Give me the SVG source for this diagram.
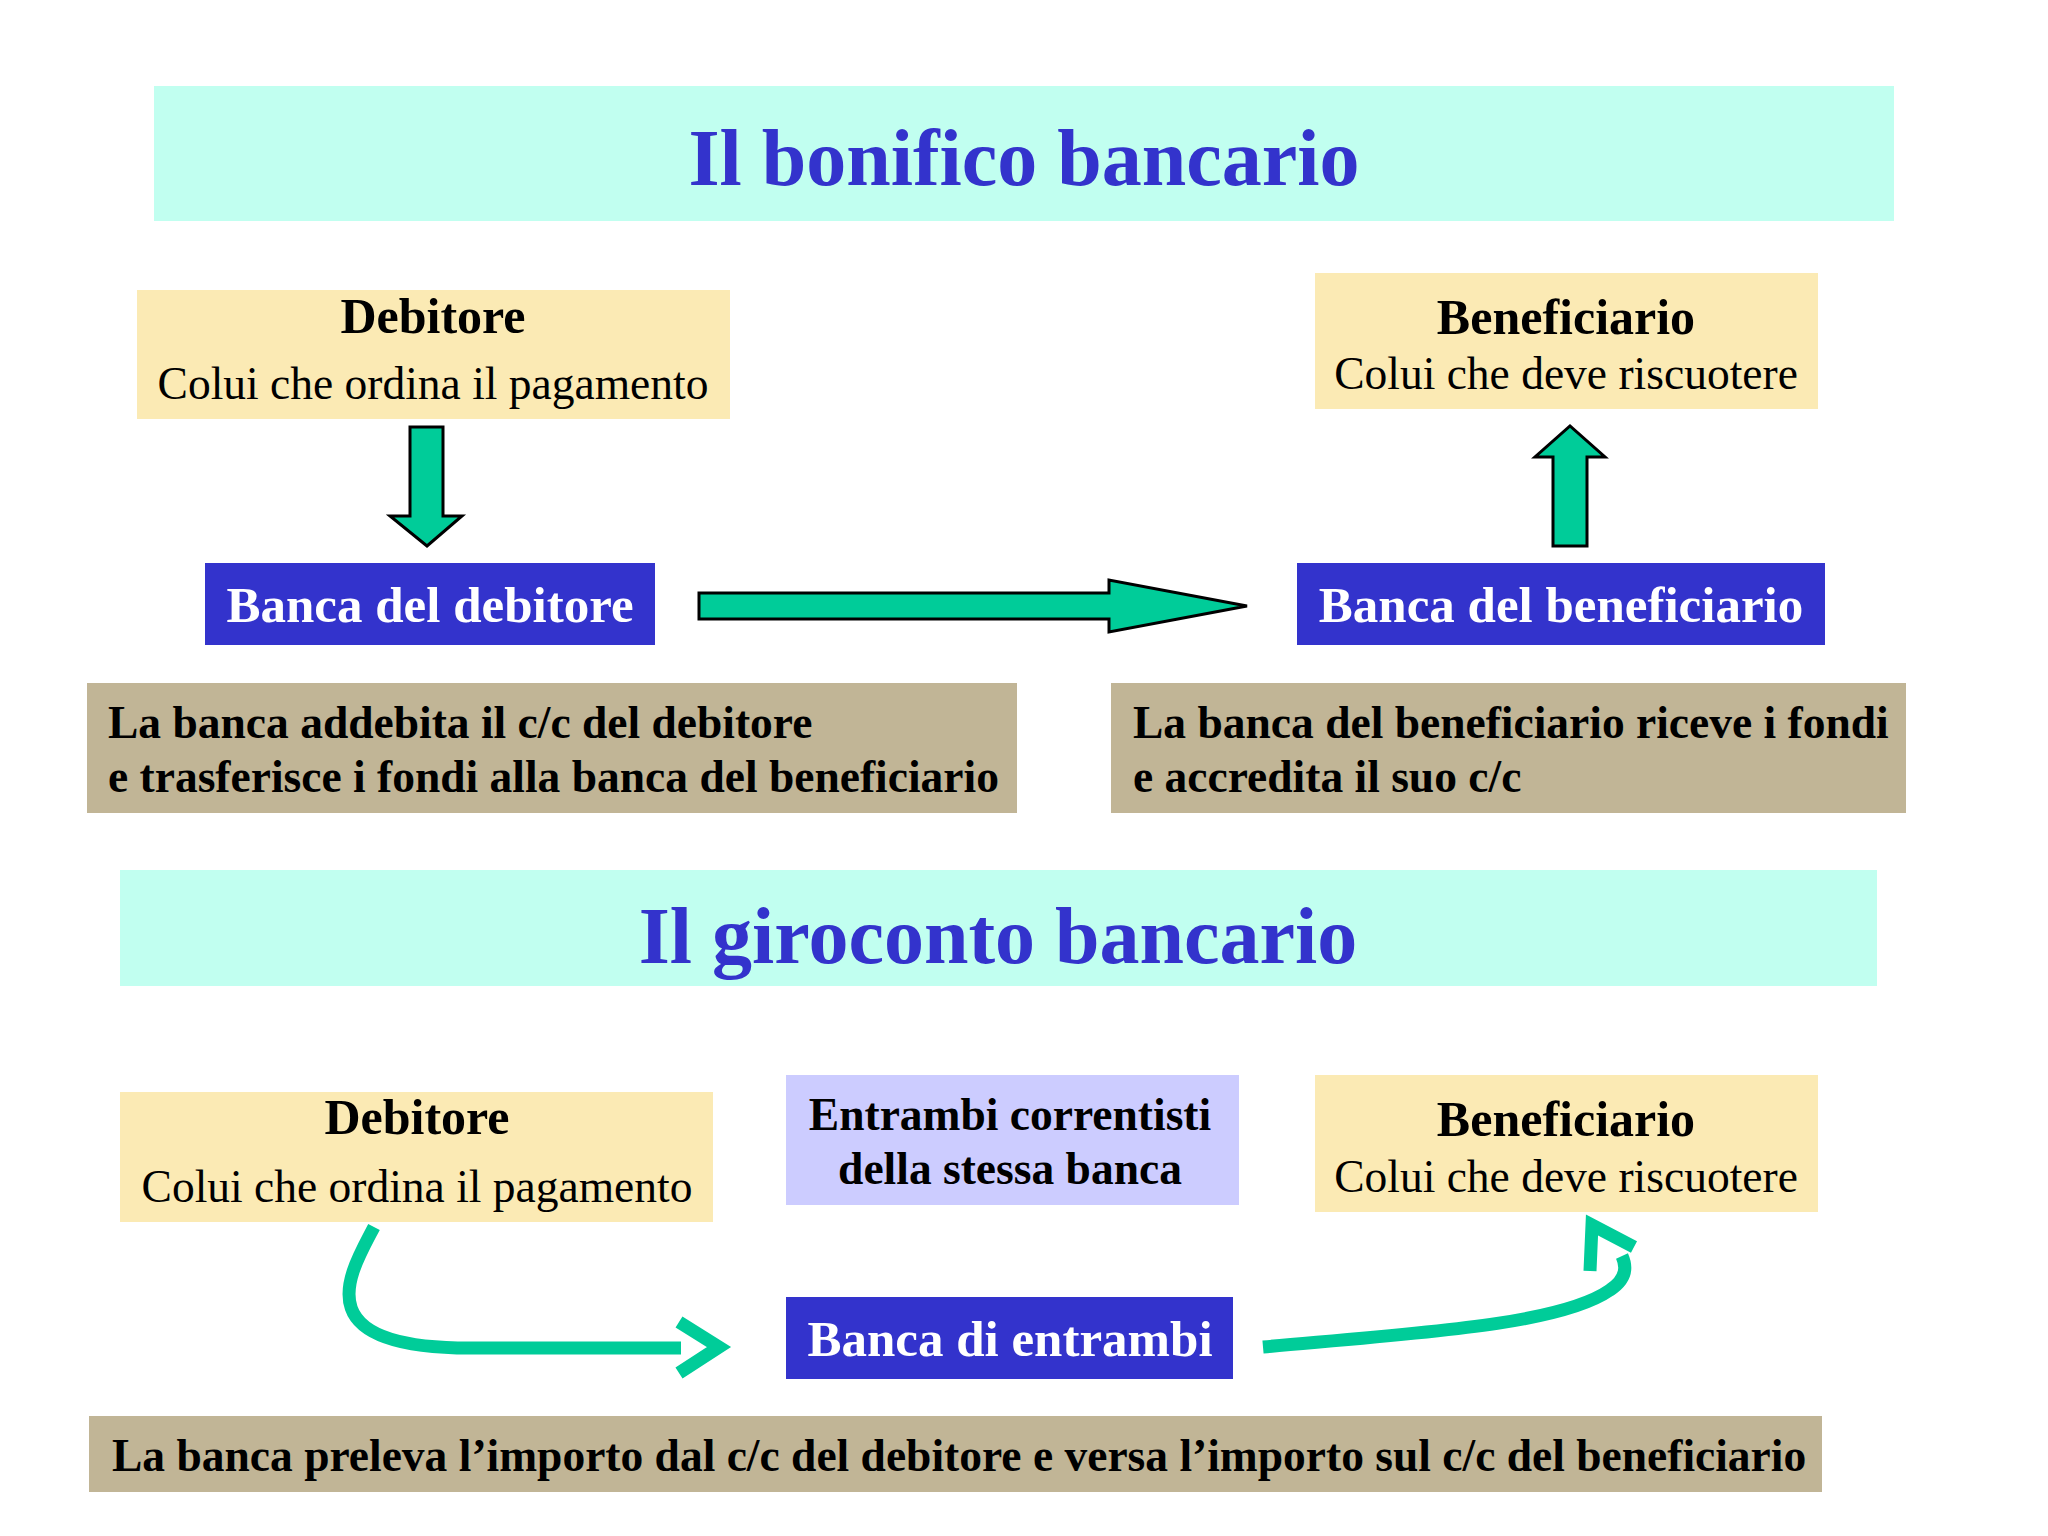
<svg xmlns="http://www.w3.org/2000/svg" width="2048" height="1536" viewBox="0 0 2048 1536">
<style>
.title{fill:#c1fff0}
.yel{fill:#fbeab4}
.blue{fill:#3333cc}
.tan{fill:#c1b596}
.lav{fill:#ccccff}
.tt{font-family:"Liberation Serif","Times New Roman",serif;font-weight:bold;font-size:80px;fill:#3333cc;text-anchor:middle}
.hb{font-family:"Liberation Serif","Times New Roman",serif;font-weight:bold;font-size:50px;fill:#000;text-anchor:middle}
.hr{font-family:"Liberation Serif","Times New Roman",serif;font-size:45.5px;fill:#000;text-anchor:middle}
.wb{font-family:"Liberation Serif","Times New Roman",serif;font-weight:bold;font-size:51px;fill:#fff;text-anchor:middle}
.db{font-family:"Liberation Serif","Times New Roman",serif;font-weight:bold;font-size:45.5px;fill:#000}
.arr{fill:#00cc99;stroke:#000;stroke-width:3;stroke-linejoin:miter}
.crv{fill:none;stroke:#00cc99;stroke-width:13}
</style>
<rect width="2048" height="1536" fill="#fff"/>
<g id="title1"><rect class="title" x="154" y="86" width="1740" height="135"/><text class="tt" x="1024" y="185">Il bonifico bancario</text></g>
<g id="debitore1"><rect class="yel" x="137" y="290" width="593" height="129"/><text class="hb" x="433" y="333">Debitore</text><text class="hr" x="433" y="399">Colui che ordina il pagamento</text></g>
<g id="beneficiario1"><rect class="yel" x="1315" y="273" width="503" height="136"/><text class="hb" x="1566" y="334">Beneficiario</text><text class="hr" x="1566" y="389">Colui che deve riscuotere</text></g>
<g id="bancaDebitore"><rect class="blue" x="205" y="563" width="450" height="82"/><text class="wb" x="430" y="622">Banca del debitore</text></g>
<g id="bancaBeneficiario"><rect class="blue" x="1297" y="563" width="528" height="82"/><text class="wb" x="1561" y="622">Banca del beneficiario</text></g>
<g id="nota1"><rect class="tan" x="87" y="683" width="930" height="130"/><text class="db" x="108" y="738">La banca addebita il c/c del debitore</text><text class="db" x="108" y="792">e trasferisce i fondi alla banca del beneficiario</text></g>
<g id="nota2"><rect class="tan" x="1111" y="683" width="795" height="130"/><text class="db" x="1133" y="738">La banca del beneficiario riceve i fondi</text><text class="db" x="1133" y="792">e accredita il suo c/c</text></g>
<g id="title2"><rect class="title" x="120" y="870" width="1757" height="116"/><text class="tt" x="998" y="963">Il giroconto bancario</text></g>
<g id="debitore2"><rect class="yel" x="120" y="1092" width="593" height="130"/><text class="hb" x="417" y="1134">Debitore</text><text class="hr" x="417" y="1202">Colui che ordina il pagamento</text></g>
<g id="entrambi"><rect class="lav" x="786" y="1075" width="453" height="130"/><text class="db" x="1010" y="1130" text-anchor="middle">Entrambi correntisti</text><text class="db" x="1010" y="1184" text-anchor="middle">della stessa banca</text></g>
<g id="beneficiario2"><rect class="yel" x="1315" y="1075" width="503" height="137"/><text class="hb" x="1566" y="1136">Beneficiario</text><text class="hr" x="1566" y="1192">Colui che deve riscuotere</text></g>
<g id="bancaEntrambi"><rect class="blue" x="786" y="1297" width="447" height="82"/><text class="wb" x="1010" y="1356">Banca di entrambi</text></g>
<g id="nota3"><rect class="tan" x="89" y="1416" width="1733" height="76"/><text class="db" x="112" y="1471">La banca preleva l’importo dal c/c del debitore e versa l’importo sul c/c del beneficiario</text></g>
<g id="connectors">
<polygon class="arr" points="410,427 443,427 443,516 462,516 427,546 390,516 410,516"/>
<polygon class="arr" points="699,593 1109,593 1109,580 1247,606 1109,632 1109,619 699,619"/>
<polygon class="arr" points="1553,546 1587,546 1587,457 1605,457 1570,426 1535,457 1553,457"/>
<path class="crv" d="M374,1227 C352,1270 300,1348 470,1348 L681,1348"/>
<polyline class="crv" points="679,1322 719,1347 679,1373"/>
<path class="crv" d="M1263,1347 C1420,1333 1560,1325 1610,1290 C1628,1278 1626,1265 1622,1256"/>
<polyline class="crv" points="1590,1271 1592,1225 1634,1247"/>
</g>
</svg>
